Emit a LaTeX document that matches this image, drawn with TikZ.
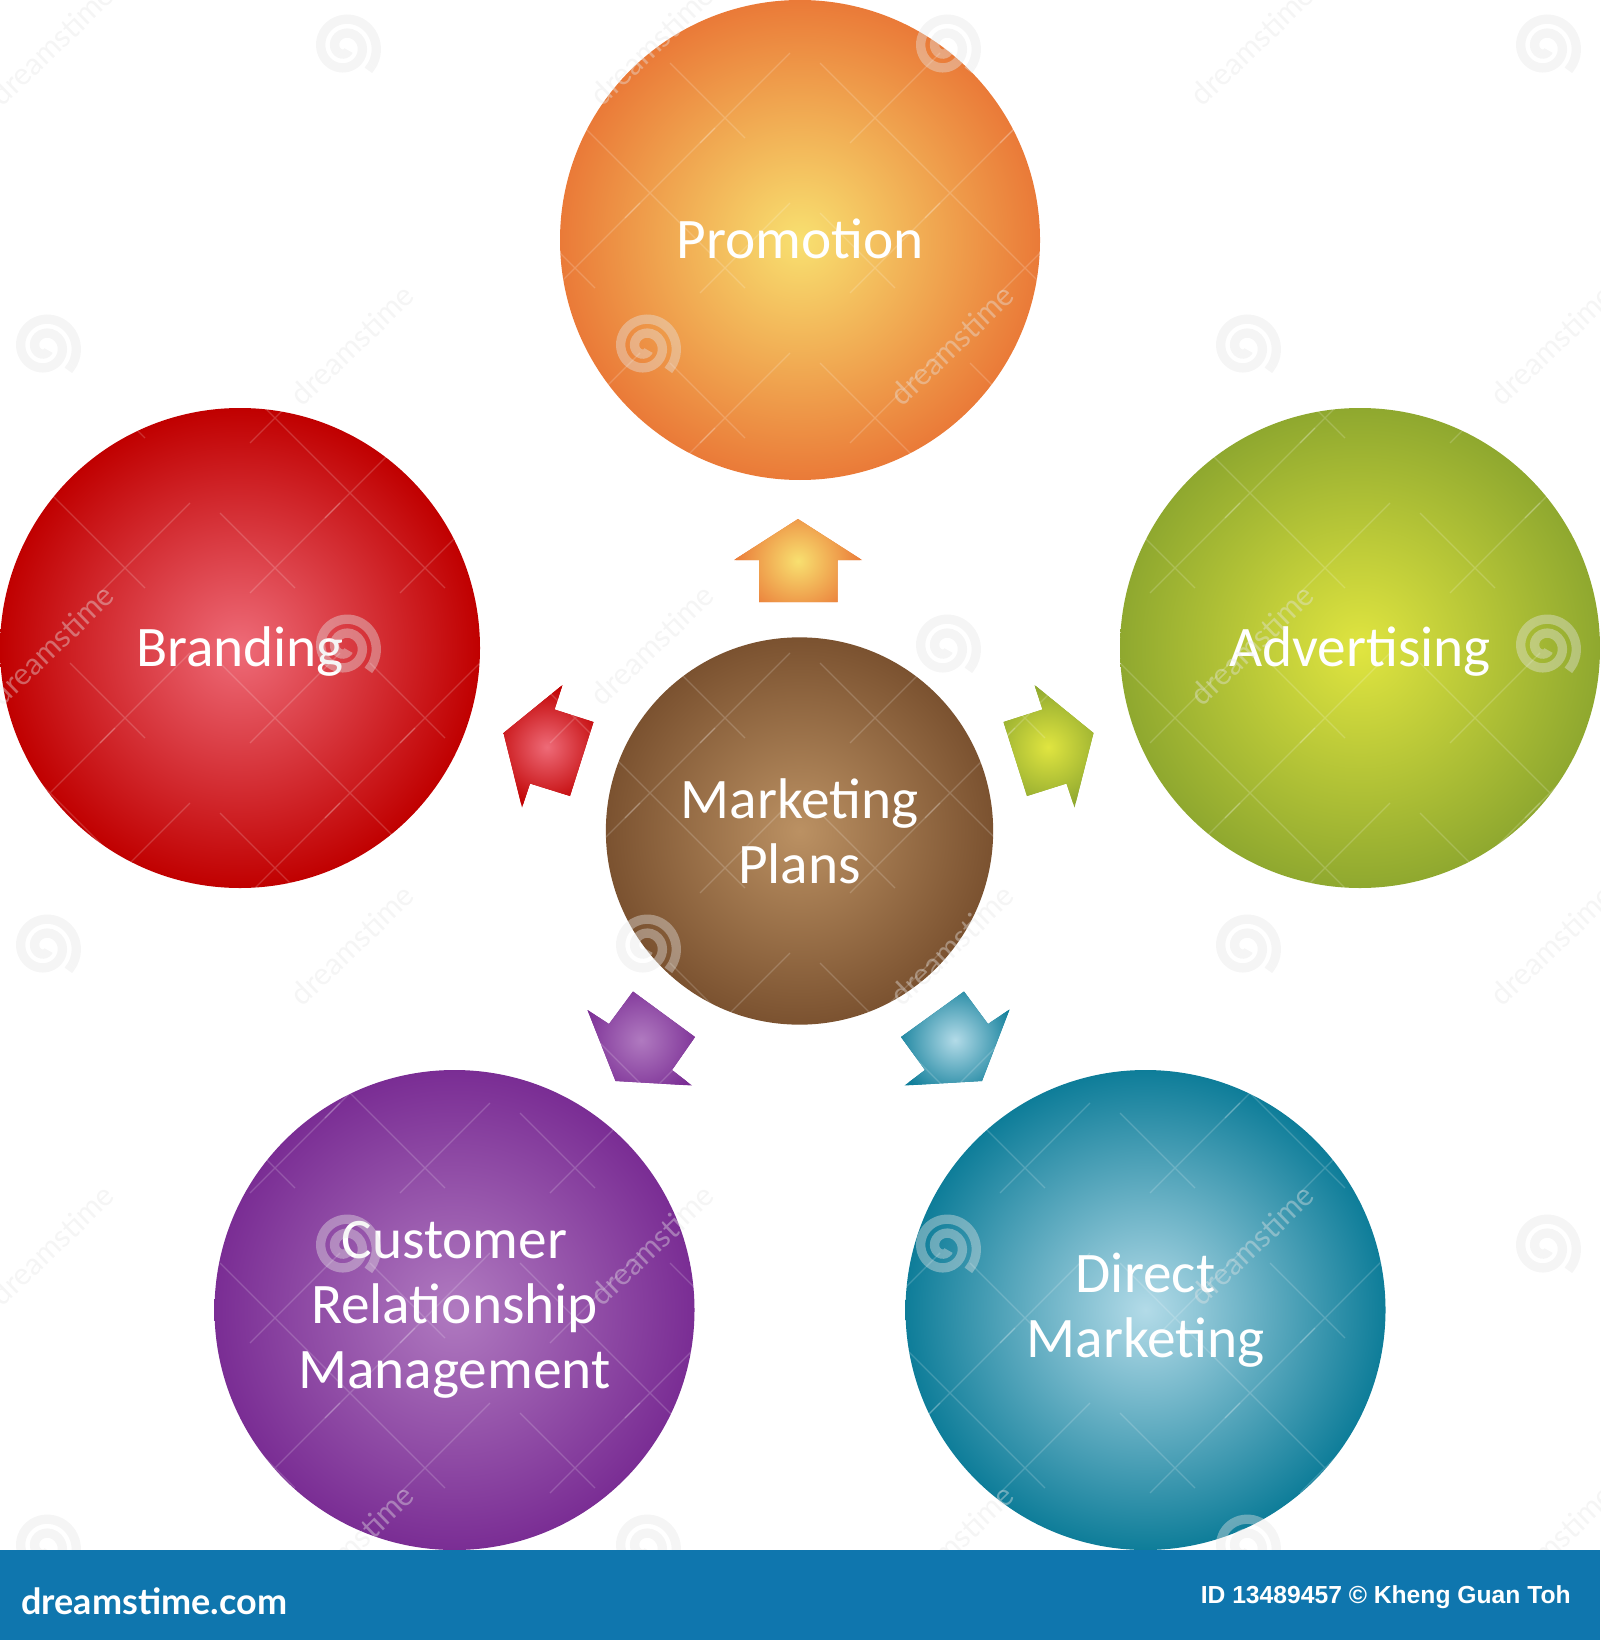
\documentclass[tikz,border=0pt]{standalone}
\usepackage{fontspec}
\setmainfont{Carlito}
\newfontfamily\idfont{Liberation Sans}
\newfontfamily\logofont{Lato}
\definecolor{barblue}{HTML}{0F76AE}
\definecolor{markgrey}{HTML}{E6E6E6}
\definecolor{orangein}{HTML}{F8E070}
\definecolor{orangeout}{HTML}{EA7A38}
\definecolor{redin}{HTML}{EE6B78}
\definecolor{redout}{HTML}{C00000}
\definecolor{greenin}{HTML}{E0E540}
\definecolor{greenout}{HTML}{8FA82F}
\definecolor{purplein}{HTML}{B07AC0}
\definecolor{purpleout}{HTML}{7A2D94}
\definecolor{bluein}{HTML}{B3DBE8}
\definecolor{blueout}{HTML}{0E7D99}
\definecolor{brownin}{HTML}{BB9163}
\definecolor{brownout}{HTML}{7B5230}
\tikzset{
  topic/.style={circle,minimum size=360pt,inner sep=0pt,text=white,align=center,
    font=\fontsize{43}{48.8}\selectfont},
  oneline/.style={topic,text height=30pt,text depth=2.6pt},
  hub/.style={topic,minimum size=290.5pt},
  arrowglow/.style n args={3}{fill=#2,path picture={\shade[inner color=#1,outer color=#2] #3 circle (62);}},
  watermark/.style={color=markgrey,opacity=0.4},
  hairline/.style={white,opacity=0.18,line width=0.9},
}
\begin{document}
\begin{tikzpicture}[x=0.75pt,y=0.75pt,yscale=-1,xscale=1]
\useasboundingbox (0,0) rectangle (1600,1640);

%Shape: Circle
\node [oneline,inner color=orangein,outer color=orangeout] (promotion) at (800,240) {Promotion};
\node [oneline,inner color=redin,outer color=redout] (branding) at (240,648) {Branding};
\node [oneline,inner color=greenin,outer color=greenout] (advertising) at (1360,648) {Advertising};
\node [topic,inner color=purplein,outer color=purpleout] (customer) at (454.5,1310) {Customer\\Relationship\\Management};
\node [topic,inner color=bluein,outer color=blueout] (direct) at (1145.5,1310) {Direct\\Marketing};
\node [hub,inner color=brownin,outer color=brownout] (plans) at (799.5,831) {Marketing\\Plans};

%Shape: Up Arrow
\path [arrowglow={orangein}{orangeout}{(798,561)}]
  (798,519) -- (862,560) -- (837.5,560) -- (837.5,602) -- (759,602) -- (759,560) -- (734,560) -- cycle;
%Shape: Up Arrow
\path [arrowglow={greenin}{greenout}{(1048,747)}]
  (1034.5,685) -- (1093.5,733) -- (1074.5,807.5) -- (1066.5,783.5) -- (1027,796) -- (1003.5,722) -- (1042.5,709.5) -- cycle;
%Shape: Up Arrow
\path [arrowglow={redin}{redout}{(547,747)}]
  (562.5,685) -- (503.5,733) -- (522,807.5) -- (530,783.5) -- (570,796) -- (593.5,722) -- (554.5,709.5) -- cycle;
%Shape: Up Arrow
\path [arrowglow={purplein}{purpleout}{(641,1040)}]
  (587.5,1010) -- (609,1024) -- (633,991.5) -- (695,1037) -- (672,1070) -- (692,1085.5) -- (615.5,1081) -- cycle;
%Shape: Up Arrow
\path [arrowglow={bluein}{blueout}{(955,1040)}]
  (1009.5,1009.5) -- (988,1024) -- (964,991.5) -- (901,1037) -- (925,1070) -- (904.5,1085.5) -- (982,1081) -- cycle;

%Watermark
\foreach \cx in {0,...,5} \foreach \cy in {0,...,5} {
  \pgfmathsetmacro{\px}{50+300*\cx}
  \pgfmathsetmacro{\py}{47+300*\cy}
  \pgfmathtruncatemacro{\odd}{mod(\cx+\cy,2)}
  \ifnum\odd=1
    \draw [watermark,line width=7] plot [smooth,domain=-675:45,samples=50] ({\px-5+(5+(\x+675)/720*28)*cos(\x)},{\py+(5+(\x+675)/720*28)*sin(\x)});
  \else
    \node [watermark,text opacity=0.4,rotate=44,font=\logofont\fontsize{23}{27}\selectfont] at (\px+2,\py-2) {dreamstime};
  \fi
}
\foreach \cx in {125,275,...,1600} \foreach \cy in {118,268,...,1500} {
  \draw [hairline] (\cx-25,\cy+25) -- (\cx+65,\cy-65) (\cx-55,\cy-55) -- (\cx+20,\cy+20);
}
\foreach \cx in {50,350,...,1600} \foreach \cy in {193,493,...,1500} {
  \draw [hairline] (\cx-25,\cy+25) -- (\cx+65,\cy-65) (\cx-55,\cy-55) -- (\cx+20,\cy+20);
}

%Shape: Rectangle
\fill [barblue] (0,1550) rectangle (1600,1640);

% Text Node
\node [anchor=west,inner sep=0pt,text=white,font=\logofont\bfseries\fontsize{27}{32}\selectfont] (logo) at (21,1601) {dreamstime.com};
% Text Node
\node [anchor=east,inner sep=0pt,text=white,font=\idfont\bfseries\fontsize{18.5}{22}\selectfont] (credit) at (1571,1597) {ID 13489457 © Kheng Guan Toh};

\end{tikzpicture}
\end{document}
